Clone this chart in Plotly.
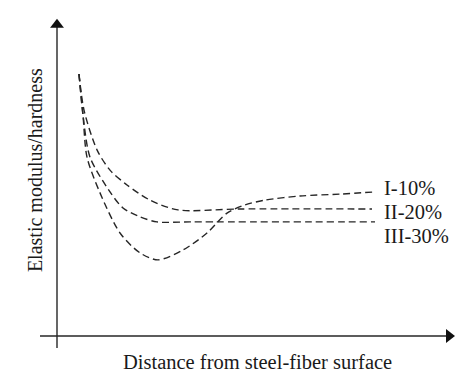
import plotly.graph_objects as go

# Data (arbitrary units: distance 0..10, property 0..10)
dist_I = [0.55, 0.65, 0.75, 1.075, 1.575, 2.075, 2.525, 3.15, 3.75, 4.25, 4.7, 5.2, 6.075, 7.075, 7.95]
val_I = [8.29, 6.99, 5.66, 4.53, 3.26, 2.63, 2.41, 2.72, 3.26, 3.89, 4.15, 4.30, 4.43, 4.49, 4.56]

dist_II = [0.55, 0.675, 1.0, 1.325, 1.75, 2.325, 3.025, 4.575, 7.875]
val_II = [8.29, 7.15, 5.89, 5.25, 4.78, 4.30, 3.99, 4.02, 4.02]

dist_III = [0.55, 0.65, 0.825, 1.325, 1.65, 2.075, 2.5, 3.325, 7.95]
val_III = [8.29, 6.99, 5.66, 4.56, 4.05, 3.77, 3.61, 3.61, 3.61]

labels = ["I-10%", "II-20%", "III-30%"]
label_y = [4.69, 3.92, 3.16]

FONT = "Liberation Serif, Times New Roman, serif"
LC = "#262626"
TC = "#1a1a1a"

fig = go.Figure()
for xs, ys in [(dist_I, val_I), (dist_II, val_II), (dist_III, val_III)]:
    fig.add_trace(go.Scatter(
        x=xs, y=ys, mode="lines",
        line=dict(color=LC, width=1.4, dash="7px,4px", shape="spline", smoothing=0.8),
        showlegend=False, hoverinfo="skip"))

# axes lines
fig.add_trace(go.Scatter(x=[0, 0], y=[-0.38, 9.9], mode="lines",
                         line=dict(color=LC, width=1.4), showlegend=False, hoverinfo="skip"))
fig.add_trace(go.Scatter(x=[-0.425, 9.8], y=[0, 0], mode="lines",
                         line=dict(color=LC, width=1.4), showlegend=False, hoverinfo="skip"))
# arrowheads
fig.add_trace(go.Scatter(x=[0], y=[9.85], mode="markers",
                         marker=dict(symbol="triangle-up", size=12, color="#111"),
                         showlegend=False, hoverinfo="skip"))
fig.add_trace(go.Scatter(x=[9.8], y=[0], mode="markers",
                         marker=dict(symbol="triangle-right", size=12, color="#111"),
                         showlegend=False, hoverinfo="skip"))

for t, yv in zip(labels, label_y):
    fig.add_annotation(x=8.125, y=yv, text=t, showarrow=False, xanchor="left",
                       font=dict(family=FONT, size=20.5, color=TC))

fig.add_annotation(x=5.0, y=-0.82, text="Distance from steel-fiber surface", showarrow=False,
                   font=dict(family=FONT, size=20.5, color=TC))
fig.add_annotation(x=-0.55, y=5.25, text="Elastic modulus/hardness", showarrow=False,
                   textangle=-90, font=dict(family=FONT, size=20, color=TC))

# page body has an 8px margin; compensate so marks land where the reference has them
W, H = 466, 375
sx = 40
x0 = -(57 - 8) / sx
s = 31.6
y0 = -(H - (336 - 8)) / s
fig.update_layout(
    width=W, height=H,
    margin=dict(l=0, r=0, t=0, b=0),
    paper_bgcolor="white", plot_bgcolor="white",
    xaxis=dict(range=[x0, x0 + W / sx], visible=False, fixedrange=True),
    yaxis=dict(range=[y0, y0 + H / s], visible=False, fixedrange=True),
)
fig.write_html("out.html")
